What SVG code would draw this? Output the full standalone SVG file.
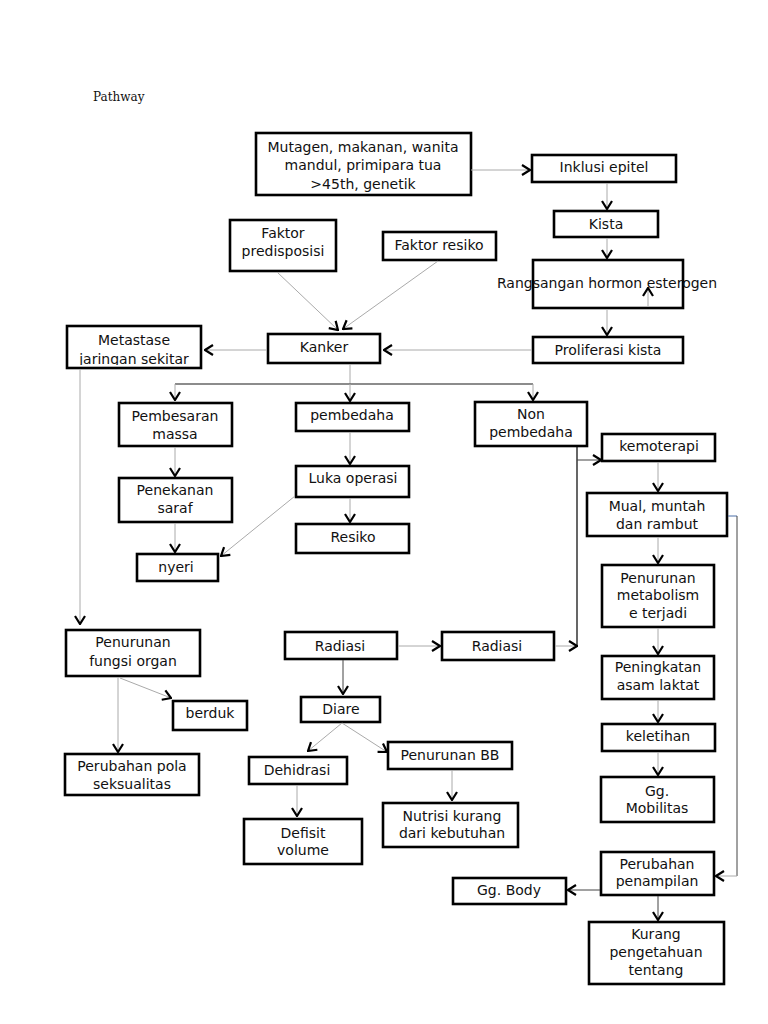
<svg xmlns="http://www.w3.org/2000/svg" width="768" height="1024" viewBox="0 0 768 1024">
<style>
.box{fill:#fff;stroke:#000;stroke-width:2.6}
.t{font-family:"DejaVu Sans",sans-serif;font-size:14px;fill:#111;text-anchor:middle}
.c{fill:none;stroke:#aaa;stroke-width:1}
.cd{fill:none;stroke:#444;stroke-width:1}
.ck{fill:none;stroke:#000;stroke-width:1.2}
.a{marker-end:url(#ah)}
</style>
<defs>
<marker id="ah" viewBox="-11 -7 12 14" refX="0" refY="0" markerWidth="12" markerHeight="14" markerUnits="userSpaceOnUse" orient="auto">
<path d="M-8,-5 L0,0 L-8,5" fill="none" stroke="#000" stroke-width="2.2"/>
</marker>
<clipPath id="clipMeta"><rect x="67" y="327" width="134" height="38"/></clipPath>
</defs>
<rect width="768" height="1024" fill="#fff"/>
<text x="93" y="101" font-family="DejaVu Serif, serif" font-size="12" fill="#111">Pathway</text>

<g id="mutagen"><rect class="box" x="256" y="133" width="215" height="62"/>
<text class="t" x="363" y="152">Mutagen, makanan, wanita</text>
<text class="t" x="363" y="170">mandul, primipara tua</text>
<text class="t" x="363" y="189">&gt;45th, genetik</text></g>
<g id="inklusi"><rect class="box" x="532" y="155" width="144" height="27"/><text class="t" x="604" y="172">Inklusi epitel</text></g>
<g id="kista"><rect class="box" x="554" y="211" width="104" height="26"/><text class="t" x="606" y="229">Kista</text></g>
<g id="predisposisi"><rect class="box" x="230" y="220" width="106" height="51"/>
<text class="t" x="283" y="238">Faktor</text><text class="t" x="283" y="256">predisposisi</text></g>
<g id="resiko-faktor"><rect class="box" x="383" y="232" width="113" height="28"/><text class="t" x="439" y="250">Faktor resiko</text></g>
<g id="rangsangan"><rect class="box" x="533" y="260" width="150" height="48"/><text class="t" x="607" y="288">Rangsangan hormon esterogen</text></g>
<g id="kanker"><rect class="box" x="268" y="334" width="112" height="29"/><text class="t" x="324" y="352">Kanker</text></g>
<g id="proliferasi"><rect class="box" x="533" y="337" width="150" height="26"/><text class="t" x="608" y="355">Proliferasi kista</text></g>
<g id="metastase"><rect class="box" x="67" y="326" width="134" height="42"/>
<g clip-path="url(#clipMeta)"><text class="t" x="134" y="345">Metastase</text><text class="t" x="134" y="364">jaringan sekitar</text></g></g>
<g id="pembesaran"><rect class="box" x="119" y="403" width="113" height="43"/>
<text class="t" x="175" y="421">Pembesaran</text><text class="t" x="175" y="439">massa</text></g>
<g id="pembedaha"><rect class="box" x="296" y="403" width="113" height="28"/><text class="t" x="352" y="420">pembedaha</text></g>
<g id="nonpembedaha"><rect class="box" x="475" y="402" width="112" height="44"/>
<text class="t" x="531" y="419">Non</text><text class="t" x="531" y="437">pembedaha</text></g>
<g id="penekanan"><rect class="box" x="119" y="478" width="113" height="44"/>
<text class="t" x="175" y="495">Penekanan</text><text class="t" x="175" y="513">saraf</text></g>
<g id="luka"><rect class="box" x="296" y="466" width="113" height="31"/><text class="t" x="353" y="483">Luka operasi</text></g>
<g id="resiko"><rect class="box" x="296" y="524" width="113" height="29"/><text class="t" x="353" y="542">Resiko</text></g>
<g id="nyeri"><rect class="box" x="137" y="554" width="81" height="27"/><text class="t" x="176" y="572">nyeri</text></g>
<g id="kemoterapi"><rect class="box" x="602" y="434" width="113" height="27"/><text class="t" x="659" y="451">kemoterapi</text></g>
<g id="mual"><rect class="box" x="587" y="493" width="140" height="43"/>
<text class="t" x="657" y="511">Mual, muntah</text><text class="t" x="657" y="529">dan rambut</text></g>
<g id="metabolisme"><rect class="box" x="602" y="565" width="112" height="62"/>
<text class="t" x="658" y="583">Penurunan</text><text class="t" x="658" y="600">metabolism</text><text class="t" x="658" y="618">e terjadi</text></g>
<g id="laktat"><rect class="box" x="602" y="656" width="112" height="43"/>
<text class="t" x="658" y="672">Peningkatan</text><text class="t" x="658" y="690">asam laktat</text></g>
<g id="keletihan"><rect class="box" x="602" y="724" width="113" height="27"/><text class="t" x="658" y="741">keletihan</text></g>
<g id="mobilitas"><rect class="box" x="601" y="777" width="113" height="45"/>
<text class="t" x="657" y="796">Gg.</text><text class="t" x="657" y="813">Mobilitas</text></g>
<g id="penampilan"><rect class="box" x="601" y="852" width="113" height="43"/>
<text class="t" x="657" y="869">Perubahan</text><text class="t" x="657" y="886">penampilan</text></g>
<g id="body"><rect class="box" x="453" y="878" width="113" height="26"/><text class="t" x="509" y="895">Gg. Body</text></g>
<g id="kurang"><rect class="box" x="589" y="922" width="135" height="62"/>
<text class="t" x="656" y="939">Kurang</text><text class="t" x="656" y="957">pengetahuan</text><text class="t" x="656" y="975">tentang</text></g>
<g id="fungsi"><rect class="box" x="66" y="630" width="134" height="46"/>
<text class="t" x="133" y="647">Penurunan</text><text class="t" x="133" y="666">fungsi organ</text></g>
<g id="berduk"><rect class="box" x="173" y="701" width="74" height="29"/><text class="t" x="210" y="718">berduk</text></g>
<g id="seksualitas"><rect class="box" x="65" y="754" width="134" height="41"/>
<text class="t" x="132" y="771">Perubahan pola</text><text class="t" x="132" y="789">seksualitas</text></g>
<g id="radiasi1"><rect class="box" x="285" y="632" width="112" height="27"/><text class="t" x="340" y="651">Radiasi</text></g>
<g id="radiasi2"><rect class="box" x="442" y="632" width="112" height="28"/><text class="t" x="497" y="651">Radiasi</text></g>
<g id="diare"><rect class="box" x="301" y="697" width="79" height="25"/><text class="t" x="341" y="714">Diare</text></g>
<g id="penurunanbb"><rect class="box" x="388" y="742" width="124" height="27"/><text class="t" x="450" y="760">Penurunan BB</text></g>
<g id="dehidrasi"><rect class="box" x="249" y="757" width="98" height="27"/><text class="t" x="297" y="775">Dehidrasi</text></g>
<g id="defisit"><rect class="box" x="244" y="819" width="118" height="45"/>
<text class="t" x="303" y="838">Defisit</text><text class="t" x="303" y="855">volume</text></g>
<g id="nutrisi"><rect class="box" x="383" y="803" width="135" height="44"/>
<text class="t" x="452" y="821">Nutrisi kurang</text><text class="t" x="452" y="838">dari kebutuhan</text></g>

<g id="connectors">
<path class="c a" d="M471,170 H530"/>
<path class="c a" d="M607,183 V209"/>
<path class="c a" d="M607,238 V258"/>
<path class="c a" d="M607,310 V335"/>
<path class="c a" d="M648,306 V288"/>
<path class="c a" d="M532,350 H384"/>
<path class="c a" d="M277,272 L338,330"/>
<path class="c a" d="M438,261 L343,329"/>
<path class="c a" d="M267,350 H205"/>
<path class="c" d="M350,364 V384"/>
<path fill="none" stroke="#666" stroke-width="1.6" d="M175,384 H533"/>
<path class="c a" d="M175,384 V400"/>
<path class="c a" d="M350,384 V401"/>
<path class="c a" d="M533,384 V400"/>
<path class="c a" d="M175,447 V476"/>
<path class="c a" d="M175,523 V552"/>
<path class="c a" d="M350,432 V464"/>
<path class="c a" d="M350,498 V522"/>
<path class="c a" d="M295,496 L221,556"/>
<path class="c a" d="M80,369 V624"/>
<path class="ck" d="M577,447 V647"/>
<path class="cd a" d="M577,460 H601"/>
<path class="c a" d="M658,462 V491"/>
<path class="c a" d="M658,537 V563"/>
<path class="c a" d="M658,628 V654"/>
<path class="c a" d="M658,700 V722"/>
<path class="c a" d="M658,752 V775"/>
<path fill="none" stroke="#4a6fa8" stroke-width="1" d="M728,516 H737"/>
<path class="cd" d="M737,516 V876"/>
<path class="c a" d="M737,876 H716"/>
<path class="cd a" d="M658,896 V920"/>
<path class="cd a" d="M600,890 H568"/>
<path class="c a" d="M118,677 V752"/>
<path class="c a" d="M120,678 L171,698"/>
<path class="c a" d="M398,646 H440"/>
<path class="c a" d="M555,646 H577"/>
<path class="cd a" d="M343,660 V694"/>
<path class="c a" d="M342,723 L308,751"/>
<path class="c a" d="M342,723 L387,752"/>
<path class="c a" d="M297,785 V816"/>
<path class="c a" d="M452,770 V800"/>
</g>
</svg>
